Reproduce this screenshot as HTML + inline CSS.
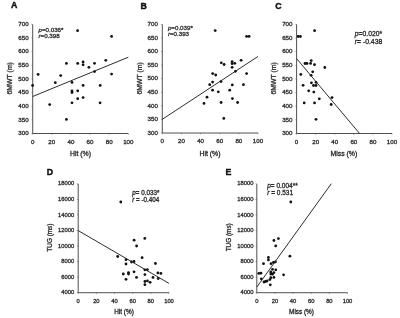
<!DOCTYPE html>
<html><head><meta charset="utf-8"><style>
html,body{margin:0;padding:0;background:#fff;}
body{width:400px;height:318px;overflow:hidden;}
svg{display:block;font-family:"Liberation Sans", sans-serif;filter:blur(0.7px);} text{stroke:#2a2a2a;stroke-width:0.3px;}
</style></head><body>
<svg width="400" height="318" viewBox="0 0 400 318">
<rect width="400" height="318" fill="#fff"/>
<line x1="32.70" y1="24.40" x2="32.70" y2="133.50" stroke="#505050" stroke-width="1.0"/>
<line x1="32.70" y1="133.50" x2="128.30" y2="133.50" stroke="#505050" stroke-width="1.0"/>
<line x1="31.50" y1="133.50" x2="32.70" y2="133.50" stroke="#505050" stroke-width="0.6"/>
<text x="28.60" y="135.22" font-size="6.2" text-anchor="end" font-weight="normal" font-style="normal" fill="#2a2a2a">300</text>
<line x1="31.50" y1="119.86" x2="32.70" y2="119.86" stroke="#505050" stroke-width="0.6"/>
<text x="28.60" y="121.58" font-size="6.2" text-anchor="end" font-weight="normal" font-style="normal" fill="#2a2a2a">350</text>
<line x1="31.50" y1="106.22" x2="32.70" y2="106.22" stroke="#505050" stroke-width="0.6"/>
<text x="28.60" y="107.94" font-size="6.2" text-anchor="end" font-weight="normal" font-style="normal" fill="#2a2a2a">400</text>
<line x1="31.50" y1="92.59" x2="32.70" y2="92.59" stroke="#505050" stroke-width="0.6"/>
<text x="28.60" y="94.31" font-size="6.2" text-anchor="end" font-weight="normal" font-style="normal" fill="#2a2a2a">450</text>
<line x1="31.50" y1="78.95" x2="32.70" y2="78.95" stroke="#505050" stroke-width="0.6"/>
<text x="28.60" y="80.67" font-size="6.2" text-anchor="end" font-weight="normal" font-style="normal" fill="#2a2a2a">500</text>
<line x1="31.50" y1="65.31" x2="32.70" y2="65.31" stroke="#505050" stroke-width="0.6"/>
<text x="28.60" y="67.03" font-size="6.2" text-anchor="end" font-weight="normal" font-style="normal" fill="#2a2a2a">550</text>
<line x1="31.50" y1="51.68" x2="32.70" y2="51.68" stroke="#505050" stroke-width="0.6"/>
<text x="28.60" y="53.39" font-size="6.2" text-anchor="end" font-weight="normal" font-style="normal" fill="#2a2a2a">600</text>
<line x1="31.50" y1="38.04" x2="32.70" y2="38.04" stroke="#505050" stroke-width="0.6"/>
<text x="28.60" y="39.76" font-size="6.2" text-anchor="end" font-weight="normal" font-style="normal" fill="#2a2a2a">650</text>
<line x1="31.50" y1="24.40" x2="32.70" y2="24.40" stroke="#505050" stroke-width="0.6"/>
<text x="28.60" y="26.12" font-size="6.2" text-anchor="end" font-weight="normal" font-style="normal" fill="#2a2a2a">700</text>
<line x1="32.70" y1="133.50" x2="32.70" y2="134.70" stroke="#505050" stroke-width="0.6"/>
<text x="32.70" y="143.52" font-size="6.2" text-anchor="middle" font-weight="normal" font-style="normal" fill="#2a2a2a">0</text>
<line x1="51.82" y1="133.50" x2="51.82" y2="134.70" stroke="#505050" stroke-width="0.6"/>
<text x="51.82" y="143.52" font-size="6.2" text-anchor="middle" font-weight="normal" font-style="normal" fill="#2a2a2a">20</text>
<line x1="70.94" y1="133.50" x2="70.94" y2="134.70" stroke="#505050" stroke-width="0.6"/>
<text x="70.94" y="143.52" font-size="6.2" text-anchor="middle" font-weight="normal" font-style="normal" fill="#2a2a2a">40</text>
<line x1="90.06" y1="133.50" x2="90.06" y2="134.70" stroke="#505050" stroke-width="0.6"/>
<text x="90.06" y="143.52" font-size="6.2" text-anchor="middle" font-weight="normal" font-style="normal" fill="#2a2a2a">60</text>
<line x1="109.18" y1="133.50" x2="109.18" y2="134.70" stroke="#505050" stroke-width="0.6"/>
<text x="109.18" y="143.52" font-size="6.2" text-anchor="middle" font-weight="normal" font-style="normal" fill="#2a2a2a">80</text>
<line x1="128.30" y1="133.50" x2="128.30" y2="134.70" stroke="#505050" stroke-width="0.6"/>
<text x="128.30" y="143.52" font-size="6.2" text-anchor="middle" font-weight="normal" font-style="normal" fill="#2a2a2a">100</text>
<text x="80.50" y="156.47" font-size="6.9" text-anchor="middle" font-weight="normal" font-style="normal" fill="#2a2a2a">Hit (%)</text>
<text x="9.60" y="80.77" font-size="6.9" text-anchor="middle" font-weight="normal" font-style="normal" fill="#2a2a2a" transform="rotate(-90 9.60 78.30)">6MWT (m)</text>
<text x="11.00" y="8.45" font-size="8.8" text-anchor="start" font-weight="bold" font-style="normal" fill="#111" style="stroke:#111;stroke-width:0.4px">A</text>
<text x="38.50" y="32.22" font-size="6.2" text-anchor="start" font-weight="normal" font-style="normal" fill="#2a2a2a"><tspan font-style="italic">p</tspan>=0.036*</text>
<text x="38.50" y="38.02" font-size="6.2" text-anchor="start" font-weight="normal" font-style="normal" fill="#2a2a2a"><tspan font-style="italic">r</tspan>=0.398</text>
<circle cx="38.10" cy="74.40" r="1.4" fill="#111"/>
<circle cx="32.60" cy="85.50" r="1.4" fill="#111"/>
<circle cx="49.70" cy="104.60" r="1.4" fill="#111"/>
<circle cx="55.30" cy="82.70" r="1.4" fill="#111"/>
<circle cx="60.70" cy="75.60" r="1.4" fill="#111"/>
<circle cx="66.40" cy="63.40" r="1.4" fill="#111"/>
<circle cx="66.40" cy="119.40" r="1.4" fill="#111"/>
<circle cx="72.00" cy="82.40" r="1.4" fill="#111"/>
<circle cx="72.00" cy="91.00" r="1.4" fill="#111"/>
<circle cx="72.00" cy="92.60" r="1.4" fill="#111"/>
<circle cx="72.00" cy="102.80" r="1.4" fill="#111"/>
<circle cx="77.70" cy="63.40" r="1.4" fill="#111"/>
<circle cx="77.70" cy="90.80" r="1.4" fill="#111"/>
<circle cx="77.70" cy="98.70" r="1.4" fill="#111"/>
<circle cx="77.60" cy="30.70" r="1.4" fill="#111"/>
<circle cx="111.60" cy="36.40" r="1.4" fill="#111"/>
<circle cx="83.10" cy="62.00" r="1.4" fill="#111"/>
<circle cx="83.10" cy="64.80" r="1.4" fill="#111"/>
<circle cx="88.90" cy="67.30" r="1.4" fill="#111"/>
<circle cx="94.50" cy="63.30" r="1.4" fill="#111"/>
<circle cx="105.80" cy="60.30" r="1.4" fill="#111"/>
<circle cx="94.50" cy="71.60" r="1.4" fill="#111"/>
<circle cx="111.60" cy="74.10" r="1.4" fill="#111"/>
<circle cx="100.20" cy="85.40" r="1.4" fill="#111"/>
<circle cx="83.10" cy="85.40" r="1.4" fill="#111"/>
<circle cx="83.10" cy="97.60" r="1.4" fill="#111"/>
<circle cx="100.10" cy="102.80" r="1.4" fill="#111"/>
<line x1="32.70" y1="96.50" x2="128.30" y2="57.20" stroke="#222" stroke-width="0.95"/>
<line x1="162.30" y1="24.40" x2="162.30" y2="133.00" stroke="#505050" stroke-width="1.0"/>
<line x1="162.30" y1="133.00" x2="258.00" y2="133.00" stroke="#505050" stroke-width="1.0"/>
<line x1="161.10" y1="133.00" x2="162.30" y2="133.00" stroke="#505050" stroke-width="0.6"/>
<text x="157.90" y="134.72" font-size="6.2" text-anchor="end" font-weight="normal" font-style="normal" fill="#2a2a2a">300</text>
<line x1="161.10" y1="119.42" x2="162.30" y2="119.42" stroke="#505050" stroke-width="0.6"/>
<text x="157.90" y="121.14" font-size="6.2" text-anchor="end" font-weight="normal" font-style="normal" fill="#2a2a2a">350</text>
<line x1="161.10" y1="105.85" x2="162.30" y2="105.85" stroke="#505050" stroke-width="0.6"/>
<text x="157.90" y="107.57" font-size="6.2" text-anchor="end" font-weight="normal" font-style="normal" fill="#2a2a2a">400</text>
<line x1="161.10" y1="92.28" x2="162.30" y2="92.28" stroke="#505050" stroke-width="0.6"/>
<text x="157.90" y="93.99" font-size="6.2" text-anchor="end" font-weight="normal" font-style="normal" fill="#2a2a2a">450</text>
<line x1="161.10" y1="78.70" x2="162.30" y2="78.70" stroke="#505050" stroke-width="0.6"/>
<text x="157.90" y="80.42" font-size="6.2" text-anchor="end" font-weight="normal" font-style="normal" fill="#2a2a2a">500</text>
<line x1="161.10" y1="65.12" x2="162.30" y2="65.12" stroke="#505050" stroke-width="0.6"/>
<text x="157.90" y="66.84" font-size="6.2" text-anchor="end" font-weight="normal" font-style="normal" fill="#2a2a2a">550</text>
<line x1="161.10" y1="51.55" x2="162.30" y2="51.55" stroke="#505050" stroke-width="0.6"/>
<text x="157.90" y="53.27" font-size="6.2" text-anchor="end" font-weight="normal" font-style="normal" fill="#2a2a2a">600</text>
<line x1="161.10" y1="37.98" x2="162.30" y2="37.98" stroke="#505050" stroke-width="0.6"/>
<text x="157.90" y="39.69" font-size="6.2" text-anchor="end" font-weight="normal" font-style="normal" fill="#2a2a2a">650</text>
<line x1="161.10" y1="24.40" x2="162.30" y2="24.40" stroke="#505050" stroke-width="0.6"/>
<text x="157.90" y="26.12" font-size="6.2" text-anchor="end" font-weight="normal" font-style="normal" fill="#2a2a2a">700</text>
<line x1="162.30" y1="133.00" x2="162.30" y2="134.20" stroke="#505050" stroke-width="0.6"/>
<text x="162.30" y="142.82" font-size="6.2" text-anchor="middle" font-weight="normal" font-style="normal" fill="#2a2a2a">0</text>
<line x1="181.44" y1="133.00" x2="181.44" y2="134.20" stroke="#505050" stroke-width="0.6"/>
<text x="181.44" y="142.82" font-size="6.2" text-anchor="middle" font-weight="normal" font-style="normal" fill="#2a2a2a">20</text>
<line x1="200.58" y1="133.00" x2="200.58" y2="134.20" stroke="#505050" stroke-width="0.6"/>
<text x="200.58" y="142.82" font-size="6.2" text-anchor="middle" font-weight="normal" font-style="normal" fill="#2a2a2a">40</text>
<line x1="219.72" y1="133.00" x2="219.72" y2="134.20" stroke="#505050" stroke-width="0.6"/>
<text x="219.72" y="142.82" font-size="6.2" text-anchor="middle" font-weight="normal" font-style="normal" fill="#2a2a2a">60</text>
<line x1="238.86" y1="133.00" x2="238.86" y2="134.20" stroke="#505050" stroke-width="0.6"/>
<text x="238.86" y="142.82" font-size="6.2" text-anchor="middle" font-weight="normal" font-style="normal" fill="#2a2a2a">80</text>
<line x1="258.00" y1="133.00" x2="258.00" y2="134.20" stroke="#505050" stroke-width="0.6"/>
<text x="258.00" y="142.82" font-size="6.2" text-anchor="middle" font-weight="normal" font-style="normal" fill="#2a2a2a">100</text>
<text x="210.00" y="156.27" font-size="6.9" text-anchor="middle" font-weight="normal" font-style="normal" fill="#2a2a2a">Hit (%)</text>
<text x="139.30" y="80.87" font-size="6.9" text-anchor="middle" font-weight="normal" font-style="normal" fill="#2a2a2a" transform="rotate(-90 139.30 78.40)">6MWT (m)</text>
<text x="140.50" y="8.55" font-size="8.8" text-anchor="start" font-weight="bold" font-style="normal" fill="#111" style="stroke:#111;stroke-width:0.4px">B</text>
<text x="167.90" y="29.92" font-size="6.2" text-anchor="start" font-weight="normal" font-style="normal" fill="#2a2a2a"><tspan font-style="italic">p</tspan>=0.039*</text>
<text x="167.90" y="36.32" font-size="6.2" text-anchor="start" font-weight="normal" font-style="normal" fill="#2a2a2a"><tspan font-style="italic">r</tspan>=0.393</text>
<circle cx="215.20" cy="30.60" r="1.4" fill="#111"/>
<circle cx="246.60" cy="36.40" r="1.4" fill="#111"/>
<circle cx="249.10" cy="36.40" r="1.4" fill="#111"/>
<circle cx="221.30" cy="62.80" r="1.4" fill="#111"/>
<circle cx="224.10" cy="64.50" r="1.4" fill="#111"/>
<circle cx="232.10" cy="61.70" r="1.4" fill="#111"/>
<circle cx="232.10" cy="63.70" r="1.4" fill="#111"/>
<circle cx="234.80" cy="63.30" r="1.4" fill="#111"/>
<circle cx="232.10" cy="67.30" r="1.4" fill="#111"/>
<circle cx="241.10" cy="60.30" r="1.4" fill="#111"/>
<circle cx="235.40" cy="71.30" r="1.4" fill="#111"/>
<circle cx="246.60" cy="73.60" r="1.4" fill="#111"/>
<circle cx="212.70" cy="73.60" r="1.4" fill="#111"/>
<circle cx="215.70" cy="75.00" r="1.4" fill="#111"/>
<circle cx="221.00" cy="81.60" r="1.4" fill="#111"/>
<circle cx="212.60" cy="82.10" r="1.4" fill="#111"/>
<circle cx="209.70" cy="84.70" r="1.4" fill="#111"/>
<circle cx="232.30" cy="84.90" r="1.4" fill="#111"/>
<circle cx="243.40" cy="84.70" r="1.4" fill="#111"/>
<circle cx="212.60" cy="90.20" r="1.4" fill="#111"/>
<circle cx="218.30" cy="91.80" r="1.4" fill="#111"/>
<circle cx="229.70" cy="90.20" r="1.4" fill="#111"/>
<circle cx="207.00" cy="97.20" r="1.4" fill="#111"/>
<circle cx="232.40" cy="98.60" r="1.4" fill="#111"/>
<circle cx="204.00" cy="103.40" r="1.4" fill="#111"/>
<circle cx="221.10" cy="102.50" r="1.4" fill="#111"/>
<circle cx="237.60" cy="102.50" r="1.4" fill="#111"/>
<circle cx="223.80" cy="118.40" r="1.4" fill="#111"/>
<line x1="162.30" y1="119.30" x2="257.90" y2="56.50" stroke="#222" stroke-width="0.95"/>
<line x1="296.60" y1="24.40" x2="296.60" y2="133.50" stroke="#505050" stroke-width="1.0"/>
<line x1="296.60" y1="133.50" x2="392.00" y2="133.50" stroke="#505050" stroke-width="1.0"/>
<line x1="295.40" y1="133.50" x2="296.60" y2="133.50" stroke="#505050" stroke-width="0.6"/>
<text x="292.50" y="135.22" font-size="6.2" text-anchor="end" font-weight="normal" font-style="normal" fill="#2a2a2a">300</text>
<line x1="295.40" y1="119.86" x2="296.60" y2="119.86" stroke="#505050" stroke-width="0.6"/>
<text x="292.50" y="121.58" font-size="6.2" text-anchor="end" font-weight="normal" font-style="normal" fill="#2a2a2a">350</text>
<line x1="295.40" y1="106.22" x2="296.60" y2="106.22" stroke="#505050" stroke-width="0.6"/>
<text x="292.50" y="107.94" font-size="6.2" text-anchor="end" font-weight="normal" font-style="normal" fill="#2a2a2a">400</text>
<line x1="295.40" y1="92.59" x2="296.60" y2="92.59" stroke="#505050" stroke-width="0.6"/>
<text x="292.50" y="94.31" font-size="6.2" text-anchor="end" font-weight="normal" font-style="normal" fill="#2a2a2a">450</text>
<line x1="295.40" y1="78.95" x2="296.60" y2="78.95" stroke="#505050" stroke-width="0.6"/>
<text x="292.50" y="80.67" font-size="6.2" text-anchor="end" font-weight="normal" font-style="normal" fill="#2a2a2a">500</text>
<line x1="295.40" y1="65.31" x2="296.60" y2="65.31" stroke="#505050" stroke-width="0.6"/>
<text x="292.50" y="67.03" font-size="6.2" text-anchor="end" font-weight="normal" font-style="normal" fill="#2a2a2a">550</text>
<line x1="295.40" y1="51.68" x2="296.60" y2="51.68" stroke="#505050" stroke-width="0.6"/>
<text x="292.50" y="53.39" font-size="6.2" text-anchor="end" font-weight="normal" font-style="normal" fill="#2a2a2a">600</text>
<line x1="295.40" y1="38.04" x2="296.60" y2="38.04" stroke="#505050" stroke-width="0.6"/>
<text x="292.50" y="39.76" font-size="6.2" text-anchor="end" font-weight="normal" font-style="normal" fill="#2a2a2a">650</text>
<line x1="295.40" y1="24.40" x2="296.60" y2="24.40" stroke="#505050" stroke-width="0.6"/>
<text x="292.50" y="26.12" font-size="6.2" text-anchor="end" font-weight="normal" font-style="normal" fill="#2a2a2a">700</text>
<line x1="296.60" y1="133.50" x2="296.60" y2="134.70" stroke="#505050" stroke-width="0.6"/>
<text x="296.60" y="143.52" font-size="6.2" text-anchor="middle" font-weight="normal" font-style="normal" fill="#2a2a2a">0</text>
<line x1="315.68" y1="133.50" x2="315.68" y2="134.70" stroke="#505050" stroke-width="0.6"/>
<text x="315.68" y="143.52" font-size="6.2" text-anchor="middle" font-weight="normal" font-style="normal" fill="#2a2a2a">20</text>
<line x1="334.76" y1="133.50" x2="334.76" y2="134.70" stroke="#505050" stroke-width="0.6"/>
<text x="334.76" y="143.52" font-size="6.2" text-anchor="middle" font-weight="normal" font-style="normal" fill="#2a2a2a">40</text>
<line x1="353.84" y1="133.50" x2="353.84" y2="134.70" stroke="#505050" stroke-width="0.6"/>
<text x="353.84" y="143.52" font-size="6.2" text-anchor="middle" font-weight="normal" font-style="normal" fill="#2a2a2a">60</text>
<line x1="372.92" y1="133.50" x2="372.92" y2="134.70" stroke="#505050" stroke-width="0.6"/>
<text x="372.92" y="143.52" font-size="6.2" text-anchor="middle" font-weight="normal" font-style="normal" fill="#2a2a2a">80</text>
<line x1="392.00" y1="133.50" x2="392.00" y2="134.70" stroke="#505050" stroke-width="0.6"/>
<text x="392.00" y="143.52" font-size="6.2" text-anchor="middle" font-weight="normal" font-style="normal" fill="#2a2a2a">100</text>
<text x="343.90" y="156.07" font-size="6.9" text-anchor="middle" font-weight="normal" font-style="normal" fill="#2a2a2a">Miss (%)</text>
<text x="273.90" y="80.87" font-size="6.9" text-anchor="middle" font-weight="normal" font-style="normal" fill="#2a2a2a" transform="rotate(-90 273.90 78.40)">6MWT (m)</text>
<text x="275.20" y="8.55" font-size="8.8" text-anchor="start" font-weight="bold" font-style="normal" fill="#111" style="stroke:#111;stroke-width:0.4px">C</text>
<text x="354.80" y="36.03" font-size="6.8" text-anchor="start" font-weight="normal" font-style="normal" fill="#2a2a2a"><tspan font-style="italic">p</tspan>=0.020*</text>
<text x="354.80" y="43.63" font-size="6.8" text-anchor="start" font-weight="normal" font-style="normal" fill="#2a2a2a"><tspan font-style="italic">r</tspan>= -0.438</text>
<circle cx="298.20" cy="36.50" r="1.4" fill="#111"/>
<circle cx="300.40" cy="36.50" r="1.4" fill="#111"/>
<circle cx="314.60" cy="30.70" r="1.4" fill="#111"/>
<circle cx="305.00" cy="63.50" r="1.4" fill="#111"/>
<circle cx="307.00" cy="63.50" r="1.4" fill="#111"/>
<circle cx="311.20" cy="60.60" r="1.4" fill="#111"/>
<circle cx="310.60" cy="63.40" r="1.4" fill="#111"/>
<circle cx="314.50" cy="64.70" r="1.4" fill="#111"/>
<circle cx="324.80" cy="67.50" r="1.4" fill="#111"/>
<circle cx="300.80" cy="74.40" r="1.4" fill="#111"/>
<circle cx="312.70" cy="71.80" r="1.4" fill="#111"/>
<circle cx="311.10" cy="75.30" r="1.4" fill="#111"/>
<circle cx="311.40" cy="82.80" r="1.4" fill="#111"/>
<circle cx="313.50" cy="85.50" r="1.4" fill="#111"/>
<circle cx="316.00" cy="82.30" r="1.4" fill="#111"/>
<circle cx="316.00" cy="85.50" r="1.4" fill="#111"/>
<circle cx="303.10" cy="85.30" r="1.4" fill="#111"/>
<circle cx="308.70" cy="90.80" r="1.4" fill="#111"/>
<circle cx="313.80" cy="92.10" r="1.4" fill="#111"/>
<circle cx="319.30" cy="98.80" r="1.4" fill="#111"/>
<circle cx="332.00" cy="97.60" r="1.4" fill="#111"/>
<circle cx="331.20" cy="104.50" r="1.4" fill="#111"/>
<circle cx="304.20" cy="102.90" r="1.4" fill="#111"/>
<circle cx="314.50" cy="102.90" r="1.4" fill="#111"/>
<circle cx="316.00" cy="119.30" r="1.4" fill="#111"/>
<line x1="296.60" y1="58.60" x2="359.60" y2="133.50" stroke="#222" stroke-width="0.95"/>
<line x1="78.20" y1="183.90" x2="78.20" y2="292.70" stroke="#505050" stroke-width="1.0"/>
<line x1="78.20" y1="292.70" x2="169.00" y2="292.70" stroke="#505050" stroke-width="1.0"/>
<line x1="77.00" y1="292.70" x2="78.20" y2="292.70" stroke="#505050" stroke-width="0.6"/>
<text x="74.20" y="294.28" font-size="5.8" text-anchor="end" font-weight="normal" font-style="normal" fill="#2a2a2a">4000</text>
<line x1="77.00" y1="277.16" x2="78.20" y2="277.16" stroke="#505050" stroke-width="0.6"/>
<text x="74.20" y="278.73" font-size="5.8" text-anchor="end" font-weight="normal" font-style="normal" fill="#2a2a2a">6000</text>
<line x1="77.00" y1="261.61" x2="78.20" y2="261.61" stroke="#505050" stroke-width="0.6"/>
<text x="74.20" y="263.19" font-size="5.8" text-anchor="end" font-weight="normal" font-style="normal" fill="#2a2a2a">8000</text>
<line x1="77.00" y1="246.07" x2="78.20" y2="246.07" stroke="#505050" stroke-width="0.6"/>
<text x="74.20" y="247.65" font-size="5.8" text-anchor="end" font-weight="normal" font-style="normal" fill="#2a2a2a">10000</text>
<line x1="77.00" y1="230.53" x2="78.20" y2="230.53" stroke="#505050" stroke-width="0.6"/>
<text x="74.20" y="232.10" font-size="5.8" text-anchor="end" font-weight="normal" font-style="normal" fill="#2a2a2a">12000</text>
<line x1="77.00" y1="214.99" x2="78.20" y2="214.99" stroke="#505050" stroke-width="0.6"/>
<text x="74.20" y="216.56" font-size="5.8" text-anchor="end" font-weight="normal" font-style="normal" fill="#2a2a2a">14000</text>
<line x1="77.00" y1="199.44" x2="78.20" y2="199.44" stroke="#505050" stroke-width="0.6"/>
<text x="74.20" y="201.02" font-size="5.8" text-anchor="end" font-weight="normal" font-style="normal" fill="#2a2a2a">16000</text>
<line x1="77.00" y1="183.90" x2="78.20" y2="183.90" stroke="#505050" stroke-width="0.6"/>
<text x="74.20" y="185.48" font-size="5.8" text-anchor="end" font-weight="normal" font-style="normal" fill="#2a2a2a">18000</text>
<line x1="78.20" y1="292.70" x2="78.20" y2="293.90" stroke="#505050" stroke-width="0.6"/>
<text x="78.20" y="302.98" font-size="5.8" text-anchor="middle" font-weight="normal" font-style="normal" fill="#2a2a2a">0</text>
<line x1="96.36" y1="292.70" x2="96.36" y2="293.90" stroke="#505050" stroke-width="0.6"/>
<text x="96.36" y="302.98" font-size="5.8" text-anchor="middle" font-weight="normal" font-style="normal" fill="#2a2a2a">20</text>
<line x1="114.52" y1="292.70" x2="114.52" y2="293.90" stroke="#505050" stroke-width="0.6"/>
<text x="114.52" y="302.98" font-size="5.8" text-anchor="middle" font-weight="normal" font-style="normal" fill="#2a2a2a">40</text>
<line x1="132.68" y1="292.70" x2="132.68" y2="293.90" stroke="#505050" stroke-width="0.6"/>
<text x="132.68" y="302.98" font-size="5.8" text-anchor="middle" font-weight="normal" font-style="normal" fill="#2a2a2a">60</text>
<line x1="150.84" y1="292.70" x2="150.84" y2="293.90" stroke="#505050" stroke-width="0.6"/>
<text x="150.84" y="302.98" font-size="5.8" text-anchor="middle" font-weight="normal" font-style="normal" fill="#2a2a2a">80</text>
<line x1="169.00" y1="292.70" x2="169.00" y2="293.90" stroke="#505050" stroke-width="0.6"/>
<text x="169.00" y="302.98" font-size="5.8" text-anchor="middle" font-weight="normal" font-style="normal" fill="#2a2a2a">100</text>
<text x="124.00" y="314.29" font-size="6.4" text-anchor="middle" font-weight="normal" font-style="normal" fill="#2a2a2a">Hit (%)</text>
<text x="50.20" y="239.89" font-size="6.4" text-anchor="middle" font-weight="normal" font-style="normal" fill="#2a2a2a" transform="rotate(-90 50.20 237.60)">TUG (ms)</text>
<text x="46.70" y="175.25" font-size="8.8" text-anchor="start" font-weight="bold" font-style="normal" fill="#111" style="stroke:#111;stroke-width:0.4px">D</text>
<text x="132.20" y="195.36" font-size="6.3" text-anchor="start" font-weight="normal" font-style="normal" fill="#2a2a2a"><tspan font-style="italic">p</tspan>= 0.033*</text>
<text x="132.20" y="201.66" font-size="6.3" text-anchor="start" font-weight="normal" font-style="normal" fill="#2a2a2a"><tspan font-style="italic">r</tspan> = -0.404</text>
<circle cx="120.80" cy="202.00" r="1.4" fill="#111"/>
<circle cx="134.10" cy="240.20" r="1.4" fill="#111"/>
<circle cx="144.80" cy="238.40" r="1.4" fill="#111"/>
<circle cx="136.60" cy="246.00" r="1.4" fill="#111"/>
<circle cx="117.70" cy="256.50" r="1.4" fill="#111"/>
<circle cx="126.00" cy="259.70" r="1.4" fill="#111"/>
<circle cx="126.00" cy="264.00" r="1.4" fill="#111"/>
<circle cx="131.50" cy="262.00" r="1.4" fill="#111"/>
<circle cx="134.00" cy="261.50" r="1.4" fill="#111"/>
<circle cx="142.10" cy="257.70" r="1.4" fill="#111"/>
<circle cx="155.40" cy="263.50" r="1.4" fill="#111"/>
<circle cx="144.80" cy="269.80" r="1.4" fill="#111"/>
<circle cx="147.40" cy="269.60" r="1.4" fill="#111"/>
<circle cx="123.30" cy="274.00" r="1.4" fill="#111"/>
<circle cx="128.50" cy="272.60" r="1.4" fill="#111"/>
<circle cx="128.50" cy="274.00" r="1.4" fill="#111"/>
<circle cx="134.00" cy="271.80" r="1.4" fill="#111"/>
<circle cx="144.90" cy="274.60" r="1.4" fill="#111"/>
<circle cx="136.50" cy="277.40" r="1.4" fill="#111"/>
<circle cx="126.00" cy="279.30" r="1.4" fill="#111"/>
<circle cx="157.90" cy="272.90" r="1.4" fill="#111"/>
<circle cx="160.90" cy="273.40" r="1.4" fill="#111"/>
<circle cx="158.20" cy="278.50" r="1.4" fill="#111"/>
<circle cx="153.00" cy="277.40" r="1.4" fill="#111"/>
<circle cx="144.90" cy="281.50" r="1.4" fill="#111"/>
<circle cx="147.40" cy="280.90" r="1.4" fill="#111"/>
<circle cx="150.10" cy="282.30" r="1.4" fill="#111"/>
<circle cx="144.90" cy="284.70" r="1.4" fill="#111"/>
<line x1="78.20" y1="230.60" x2="169.00" y2="283.40" stroke="#222" stroke-width="0.95"/>
<line x1="256.80" y1="183.90" x2="256.80" y2="292.70" stroke="#505050" stroke-width="1.0"/>
<line x1="256.80" y1="292.70" x2="347.50" y2="292.70" stroke="#505050" stroke-width="1.0"/>
<line x1="255.60" y1="292.70" x2="256.80" y2="292.70" stroke="#505050" stroke-width="0.6"/>
<text x="253.40" y="294.28" font-size="5.8" text-anchor="end" font-weight="normal" font-style="normal" fill="#2a2a2a">4000</text>
<line x1="255.60" y1="277.16" x2="256.80" y2="277.16" stroke="#505050" stroke-width="0.6"/>
<text x="253.40" y="278.73" font-size="5.8" text-anchor="end" font-weight="normal" font-style="normal" fill="#2a2a2a">6000</text>
<line x1="255.60" y1="261.61" x2="256.80" y2="261.61" stroke="#505050" stroke-width="0.6"/>
<text x="253.40" y="263.19" font-size="5.8" text-anchor="end" font-weight="normal" font-style="normal" fill="#2a2a2a">8000</text>
<line x1="255.60" y1="246.07" x2="256.80" y2="246.07" stroke="#505050" stroke-width="0.6"/>
<text x="253.40" y="247.65" font-size="5.8" text-anchor="end" font-weight="normal" font-style="normal" fill="#2a2a2a">10000</text>
<line x1="255.60" y1="230.53" x2="256.80" y2="230.53" stroke="#505050" stroke-width="0.6"/>
<text x="253.40" y="232.10" font-size="5.8" text-anchor="end" font-weight="normal" font-style="normal" fill="#2a2a2a">12000</text>
<line x1="255.60" y1="214.99" x2="256.80" y2="214.99" stroke="#505050" stroke-width="0.6"/>
<text x="253.40" y="216.56" font-size="5.8" text-anchor="end" font-weight="normal" font-style="normal" fill="#2a2a2a">14000</text>
<line x1="255.60" y1="199.44" x2="256.80" y2="199.44" stroke="#505050" stroke-width="0.6"/>
<text x="253.40" y="201.02" font-size="5.8" text-anchor="end" font-weight="normal" font-style="normal" fill="#2a2a2a">16000</text>
<line x1="255.60" y1="183.90" x2="256.80" y2="183.90" stroke="#505050" stroke-width="0.6"/>
<text x="253.40" y="185.48" font-size="5.8" text-anchor="end" font-weight="normal" font-style="normal" fill="#2a2a2a">18000</text>
<line x1="256.80" y1="292.70" x2="256.80" y2="293.90" stroke="#505050" stroke-width="0.6"/>
<text x="256.80" y="302.98" font-size="5.8" text-anchor="middle" font-weight="normal" font-style="normal" fill="#2a2a2a">0</text>
<line x1="274.94" y1="292.70" x2="274.94" y2="293.90" stroke="#505050" stroke-width="0.6"/>
<text x="274.94" y="302.98" font-size="5.8" text-anchor="middle" font-weight="normal" font-style="normal" fill="#2a2a2a">20</text>
<line x1="293.08" y1="292.70" x2="293.08" y2="293.90" stroke="#505050" stroke-width="0.6"/>
<text x="293.08" y="302.98" font-size="5.8" text-anchor="middle" font-weight="normal" font-style="normal" fill="#2a2a2a">40</text>
<line x1="311.22" y1="292.70" x2="311.22" y2="293.90" stroke="#505050" stroke-width="0.6"/>
<text x="311.22" y="302.98" font-size="5.8" text-anchor="middle" font-weight="normal" font-style="normal" fill="#2a2a2a">60</text>
<line x1="329.36" y1="292.70" x2="329.36" y2="293.90" stroke="#505050" stroke-width="0.6"/>
<text x="329.36" y="302.98" font-size="5.8" text-anchor="middle" font-weight="normal" font-style="normal" fill="#2a2a2a">80</text>
<line x1="347.50" y1="292.70" x2="347.50" y2="293.90" stroke="#505050" stroke-width="0.6"/>
<text x="347.50" y="302.98" font-size="5.8" text-anchor="middle" font-weight="normal" font-style="normal" fill="#2a2a2a">100</text>
<text x="301.50" y="313.79" font-size="6.4" text-anchor="middle" font-weight="normal" font-style="normal" fill="#2a2a2a">Miss (%)</text>
<text x="228.40" y="239.59" font-size="6.4" text-anchor="middle" font-weight="normal" font-style="normal" fill="#2a2a2a" transform="rotate(-90 228.40 237.30)">TUG (ms)</text>
<text x="225.60" y="175.15" font-size="8.8" text-anchor="start" font-weight="bold" font-style="normal" fill="#111" style="stroke:#111;stroke-width:0.4px">E</text>
<text x="267.20" y="187.93" font-size="6.5" text-anchor="start" font-weight="normal" font-style="normal" fill="#2a2a2a"><tspan font-style="italic">p</tspan>= 0.004**</text>
<text x="267.20" y="195.23" font-size="6.5" text-anchor="start" font-weight="normal" font-style="normal" fill="#2a2a2a"><tspan font-style="italic">r</tspan> = 0.531</text>
<circle cx="289.90" cy="256.20" r="1.4" fill="#111"/>
<circle cx="268.40" cy="257.40" r="1.4" fill="#111"/>
<circle cx="268.40" cy="259.90" r="1.4" fill="#111"/>
<circle cx="263.50" cy="263.70" r="1.4" fill="#111"/>
<circle cx="271.00" cy="263.70" r="1.4" fill="#111"/>
<circle cx="273.40" cy="262.50" r="1.4" fill="#111"/>
<circle cx="275.40" cy="261.90" r="1.4" fill="#111"/>
<circle cx="272.50" cy="269.30" r="1.4" fill="#111"/>
<circle cx="275.80" cy="269.80" r="1.4" fill="#111"/>
<circle cx="270.80" cy="272.00" r="1.4" fill="#111"/>
<circle cx="270.80" cy="274.00" r="1.4" fill="#111"/>
<circle cx="272.60" cy="274.20" r="1.4" fill="#111"/>
<circle cx="258.80" cy="273.40" r="1.4" fill="#111"/>
<circle cx="260.90" cy="273.20" r="1.4" fill="#111"/>
<circle cx="283.60" cy="274.80" r="1.4" fill="#111"/>
<circle cx="273.90" cy="272.60" r="1.4" fill="#111"/>
<circle cx="270.80" cy="277.70" r="1.4" fill="#111"/>
<circle cx="273.90" cy="277.40" r="1.4" fill="#111"/>
<circle cx="261.30" cy="278.80" r="1.4" fill="#111"/>
<circle cx="264.00" cy="282.00" r="1.4" fill="#111"/>
<circle cx="265.60" cy="281.50" r="1.4" fill="#111"/>
<circle cx="267.10" cy="281.00" r="1.4" fill="#111"/>
<circle cx="269.90" cy="279.60" r="1.4" fill="#111"/>
<circle cx="270.30" cy="284.80" r="1.4" fill="#111"/>
<circle cx="290.80" cy="202.00" r="1.4" fill="#111"/>
<circle cx="273.90" cy="240.50" r="1.4" fill="#111"/>
<circle cx="278.40" cy="238.60" r="1.4" fill="#111"/>
<circle cx="275.70" cy="245.90" r="1.4" fill="#111"/>
<line x1="256.80" y1="287.10" x2="331.30" y2="183.70" stroke="#222" stroke-width="0.95"/>
</svg>
</body></html>
